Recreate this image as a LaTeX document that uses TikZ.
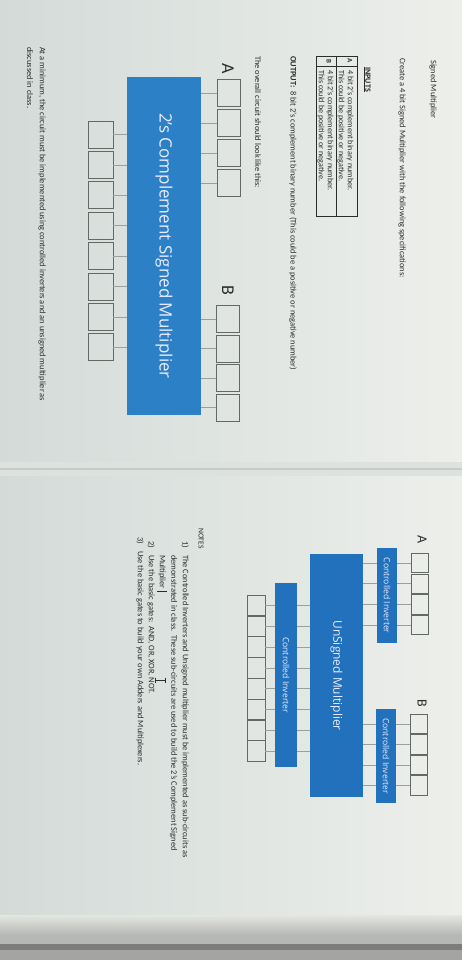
\documentclass[tikz,border=0pt]{standalone}
\usepackage{fontspec}
\setmainfont{Carlito}
\newfontfamily\blockfont{Open Sans}
\definecolor{pagec}{HTML}{E4E6E2}
\definecolor{pagel}{HTML}{D3DBD8}
\definecolor{pager}{HTML}{EDEFEB}
\definecolor{txtc}{HTML}{2A2D2C}
\definecolor{boxc}{HTML}{636A66}
\definecolor{stubc}{HTML}{9AA09C}
\definecolor{blueL}{HTML}{2B80C6}
\definecolor{blueR}{HTML}{2171BC}
\tikzset{
  txt/.style={font=\fontsize{8.4}{9}\selectfont, text=txtc, rotate=-90, anchor=west, inner sep=0pt},
  tabtxt/.style={txt, font=\fontsize{8.1}{9}\selectfont},
  bigletter/.style={font=\fontsize{18}{18}\selectfont, text=txtc, rotate=-90, inner sep=0pt},
  bitbox/.style={draw=boxc, line width=0.7pt, inner sep=0pt},
  lbox/.style={bitbox, minimum width=23pt, minimum height=27pt},
  obox/.style={bitbox, minimum width=25pt, minimum height=27pt},
  rbox/.style={bitbox, minimum width=17pt, minimum height=19.5pt},
  robox/.style={bitbox, minimum width=18pt, minimum height=20.6pt},
  blueblock/.style={fill=blueL, inner sep=0pt},
  blueblockR/.style={fill=blueR, inner sep=0pt},
  blocktext/.style={text=white!92!blue, rotate=-90, inner sep=0pt, font=\blockfont},
  stub/.style={draw=stubc, line width=0.5pt},
}
\begin{document}
\begin{tikzpicture}[x=1pt,y=-1pt]
\useasboundingbox (0,0) rectangle (462,960);
% background
\shade[left color=pagel, right color=pager] (0,0) rectangle (462,960);
\fill[pagec!60!pagel] (0,462) rectangle (462,476);
\draw[line width=2pt, draw=pagec!70!black!25!pagel] (0,469) -- (462,469);
\shade[top color=pagec, bottom color=pagec!80!black] (0,915) rectangle (462,935);
\fill[pagec!80!black] (0,935) rectangle (462,944);
\fill[pagec!55!black] (0,944) rectangle (462,950);
\fill[pagec!72!black] (0,950) rectangle (462,960);

% ===== left page =====
\node[txt] (title) at (433,60) {Signed Multiplier};
\node[txt] (create) at (402,58) {Create a 4 bit Signed Multiplier with the following specifications:};
\node[txt, font=\fontsize{8}{9}\selectfont\bfseries] (inputs) at (367,67) {\underline{INPUTS}};
% table
\draw[draw=txtc, line width=0.6pt] (316,56) rectangle (357,216);
\draw[draw=txtc, line width=0.6pt] (336,56) -- (336,216);
\draw[draw=txtc, line width=0.6pt] (316,66) -- (357,66);
\node[txt, font=\fontsize{7}{8}\selectfont\bfseries, anchor=center] (ta) at (350,61) {A};
\node[txt, font=\fontsize{7}{8}\selectfont\bfseries, anchor=center] (tb) at (329,61) {B};
\node[tabtxt] (ta1) at (350,70) {4 bit 2’s complement binary number.};
\node[tabtxt] (ta2) at (341,70) {This could be positive or negative.};
\node[tabtxt] (tb1) at (330,70) {4 bit 2’s complement binary number.};
\node[tabtxt] (tb2) at (321,70) {This could be positive or negative.};
\node[txt] (output) at (293,56) {\textbf{OUTPUT:}\ \ 8 bit 2’s complement binary number (This could be a positive or negative number)};
\node[txt] (overall) at (258,56) {The overall circuit should look like this:};

% big block
\node[blueblock, minimum width=74pt, minimum height=338pt] (cmp) at (164,246) {};
\node[blocktext, font=\blockfont\fontsize{17}{17}\selectfont] (cmpt) at (cmp.center) {2’s Complement Signed Multiplier};
\node[bigletter] (la) at (228,69) {A};
\node[bigletter] (lb) at (228,290) {B};
\foreach \i/\yy in {1/93,2/123,3/153,4/183}{
  \node[lbox] (a\i) at (228.5,\yy) {};
  \draw[stub] (a\i.west) -- (a\i.west -| cmp.east);
}
\foreach \i/\yy in {1/319,2/348.5,3/378,4/407.5}{
  \node[lbox] (b\i) at (227.5,\yy) {};
  \draw[stub] (b\i.west) -- (b\i.west -| cmp.east);
}
\foreach \i in {0,...,7}{
  \node[obox] (o\i) at (100.5,134.5+30.4*\i) {};
  \draw[stub] (o\i.east) -- (o\i.east -| cmp.west);
}
\node[txt] (min1) at (42,47) {At a minimum, the circuit must be implemented using controlled inverters and an unsigned multiplier as};
\node[txt] (min2) at (30,47) {discussed in class.};

% ===== right page =====
\node[blueblockR, minimum width=20pt, minimum height=95pt] (cia) at (387,595.5) {};
\node[blueblockR, minimum width=20pt, minimum height=94pt] (cib) at (386,756) {};
\node[blueblockR, minimum width=53pt, minimum height=243pt] (um) at (336.5,675.5) {};
\node[blueblockR, minimum width=22pt, minimum height=184pt] (cic) at (286,675) {};
\node[blocktext, font=\blockfont\fontsize{8.6}{9}\selectfont] at (cia.center) {Controlled Inverter};
\node[blocktext, font=\blockfont\fontsize{8.6}{9}\selectfont] at (cib.center) {Controlled Inverter};
\node[blocktext, font=\blockfont\fontsize{8.6}{9}\selectfont] at (cic.center) {Controlled Inverter};
\node[blocktext, font=\blockfont\fontsize{12}{12}\selectfont] at (um.center) {UnSigned Multiplier};
\node[bigletter, font=\fontsize{14}{14}\selectfont] (ra) at (422,540) {A};
\node[bigletter, font=\fontsize{14}{14}\selectfont] (rb) at (422,703) {B};
\foreach \i/\yy in {1/563,2/583.6,3/604.2,4/624.8}{
  \node[rbox] (ra\i) at (420,\yy) {};
  \draw[stub] (ra\i.west) -- (ra\i.west -| cia.east);
  \draw[stub] (ra\i.west -| cia.west) -- (ra\i.west -| um.east);
}
\foreach \i/\yy in {1/724,2/744.5,3/765,4/785.5}{
  \node[rbox] (rb\i) at (418.5,\yy) {};
  \draw[stub] (rb\i.west) -- (rb\i.west -| cib.east);
  \draw[stub] (rb\i.west -| cib.west) -- (rb\i.west -| um.east);
}
\foreach \i in {0,...,7}{
  \node[robox] (ro\i) at (256,605.5+20.8*\i) {};
  \draw[stub] (ro\i.east) -- (ro\i.east -| cic.west);
  \draw[stub] (ro\i.east -| cic.east) -- (ro\i.east -| um.west);
}
% notes
\node[txt, font=\fontsize{7.6}{8}\selectfont] (notes) at (201,528) {NOTES};
\node[txt] (n1) at (185,541) {1)};
\node[txt] (n1a) at (185,555) {The Controlled Inverters and Unsigned multiplier must be implemented as sub-circuits as};
\node[txt] (n1b) at (173.5,555) {demonstrated in class.\ \ These sub-circuits are used to build the 2’s Complement Signed};
\node[txt] (n1c) at (162,555) {Multiplier};
\draw[txtc, line width=0.6pt] (157,591) -- (167,591);
\node[txt] (n2) at (151,541) {2)};
\node[txt] (n2a) at (151,555) {Use the basic gates:\ \ AND, OR, XOR, NOT.};
\node[txt] (n3) at (140,537) {3)};
\node[txt] (n3a) at (140,551) {Use the basic gates to build your own Adders and Multiplexers.};
% mouse I-beam cursor
\draw[txtc, line width=0.6pt] (155,680) -- (165,680) (155,677.5) -- (155,682.5) (165,677.5) -- (165,682.5);
\end{tikzpicture}
\end{document}
